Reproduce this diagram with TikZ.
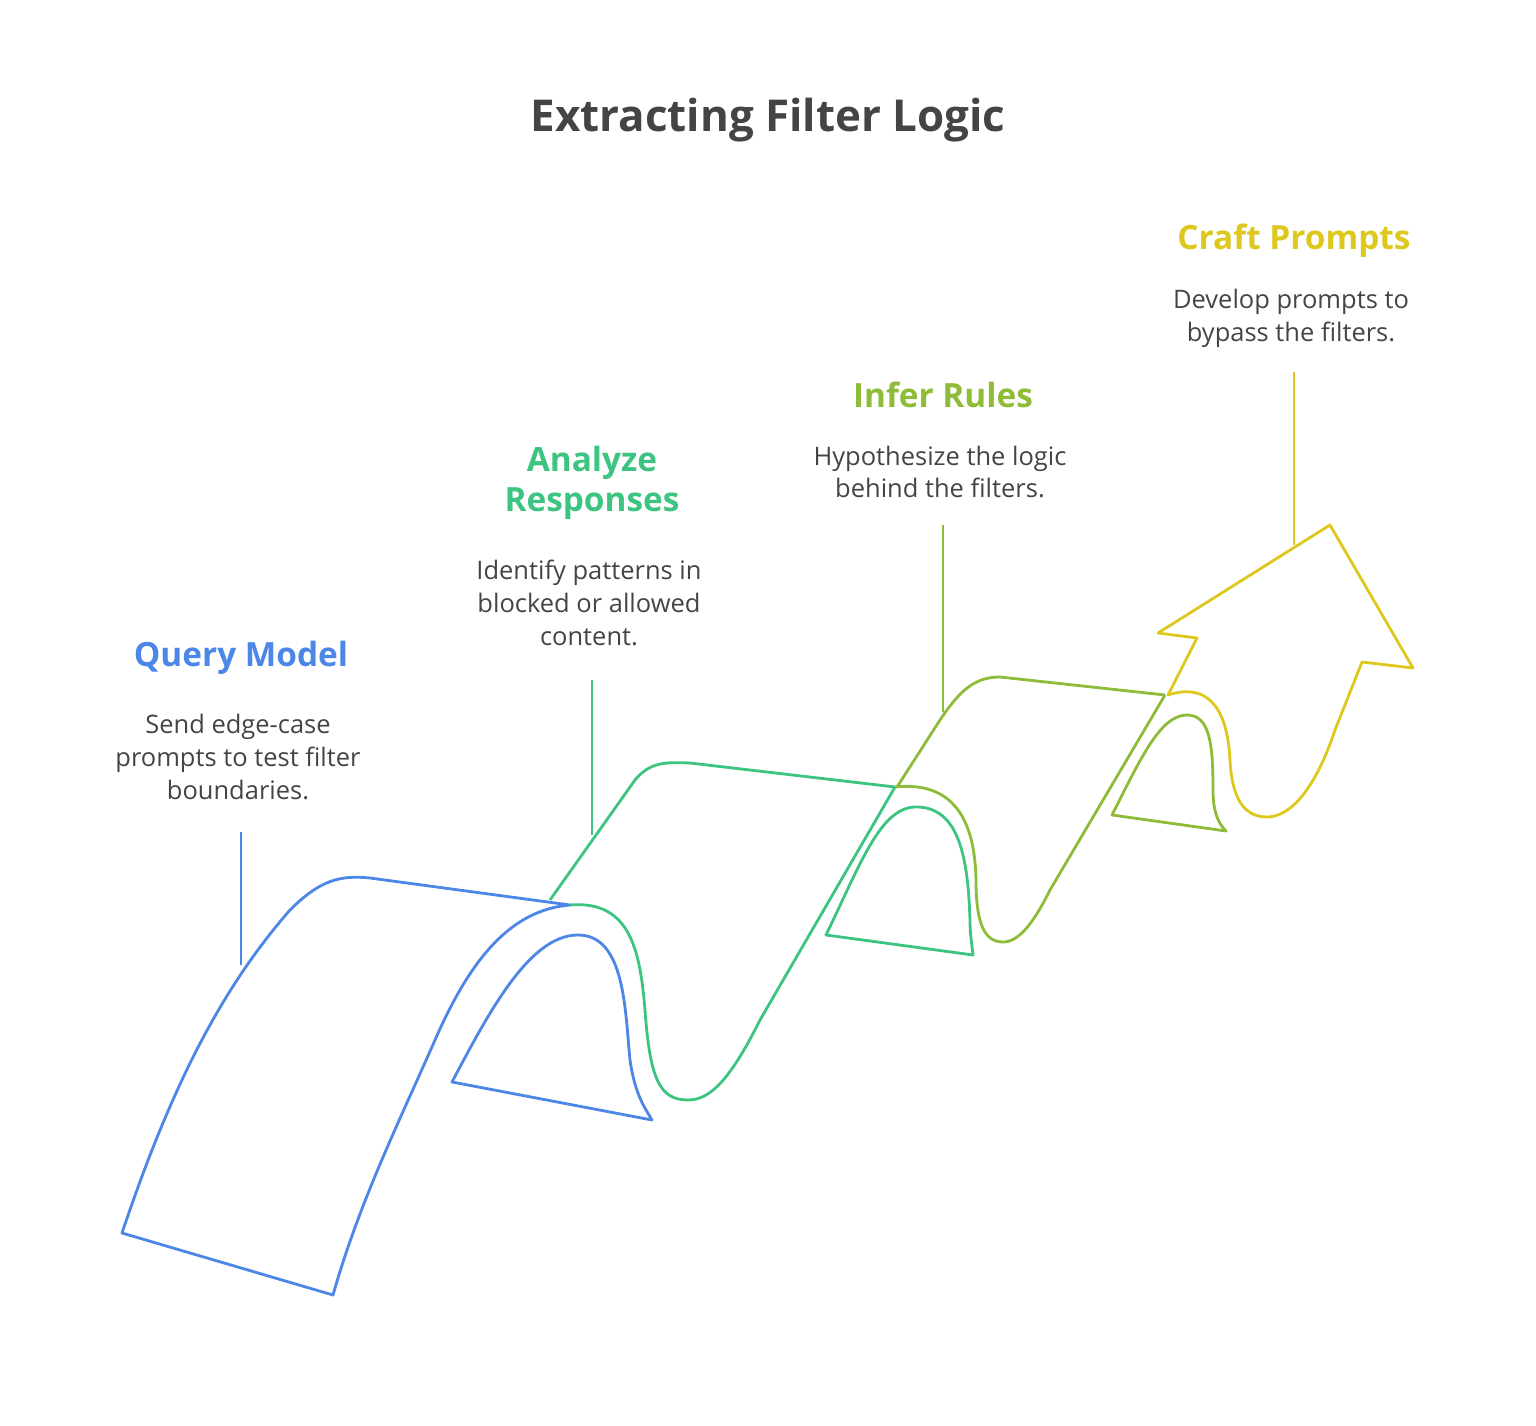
\documentclass[tikz,border=0pt]{standalone}
\usepackage{fontspec}
\setmainfont{Open Sans}
\definecolor{cblue}{HTML}{4C86E6}
\definecolor{cgreen}{HTML}{3CC480}
\definecolor{colive}{HTML}{8EBC38}
\definecolor{cyellow}{HTML}{DEC81E}
\definecolor{ctext}{HTML}{444444}
\begin{document}
\begin{tikzpicture}[
                x = 0.02cm, y = -0.02cm, % pixel grid
                line width = 1.6pt, line join = round,
                head/.style = {font=\bfseries\fontsize{19}{23}\selectfont, align=center},
                body/.style = {font=\fontsize{14.5}{18.7}\selectfont, text=ctext, align=center}
            ]
            \useasboundingbox (0,0) rectangle (1536,1426);

            \node (title) [font=\bfseries\fontsize{25}{30}\selectfont, text=ctext] at (768,120) {Extracting Filter Logic};

            % headings and texts
            \node (h1) [head, text=cblue] at (241,658) {Query Model};
            \node (t1) [body] at (238,757) {Send edge-case\\prompts to test filter\\boundaries.};
            \node (h2) [head, text=cgreen] at (592,483) {Analyze\\Responses};
            \node (t2) [body] at (589,603) {Identify patterns in\\blocked or allowed\\content.};
            \node (h3) [head, text=colive] at (943,395) {Infer Rules};
            \node (t3) [body] at (940,472) {Hypothesize the logic\\behind the filters.};
            \node (h4) [head, text=cyellow] at (1294,241) {Craft Prompts};
            \node (t4) [body] at (1291,318) {Develop prompts to\\bypass the filters.};

            \coordinate (p1) at (241,965); \coordinate (p2) at (592,835);
            \coordinate (p3) at (943,712); \coordinate (p4) at (1294,545);
            \draw[cblue] (241,832) -- (p1);
            \draw[cgreen] (592,680) -- (p2);
            \draw[colive] (943,525) -- (p3);
            \draw[cyellow] (1294,372) -- (p4);

            % blue step
            \draw[cblue] (122,1233) .. controls (170,1090) and (220,990) .. (290,910)
                .. controls (320,880) and (340,875) .. (370,878) -- (570,905)
                .. controls (510,910) and (470,960) .. (435,1040)
                .. controls (400,1120) and (360,1200) .. (333,1295) -- cycle;
            \draw[cblue] (452,1082) .. controls (490,1010) and (530,935) .. (578,935)
                .. controls (625,935) and (625,1010) .. (630,1060)
                .. controls (635,1095) and (645,1108) .. (652,1120) -- cycle;

            % green step
            \draw[cgreen] (550,900) -- (635,780) .. controls (650,762) and (665,762) .. (690,763)
                -- (895,787);
            \draw[cgreen] (570,905) .. controls (630,900) and (640,950) .. (645,1010)
                .. controls (650,1080) and (660,1100) .. (688,1100)
                .. controls (710,1100) and (730,1080) .. (760,1020) -- (895,787);
            \draw[cgreen] (826,935) .. controls (860,865) and (880,808) .. (915,807)
                .. controls (960,806) and (968,860) .. (970,920)
                .. controls (970,935) and (972,945) .. (973,955) -- cycle;

            % olive step
            \draw[colive] (897,787) -- (940,720) .. controls (960,690) and (975,677) .. (1000,677)
                -- (1165,695);
            \draw[colive] (895,787) .. controls (960,780) and (975,830) .. (976,880)
                .. controls (976,925) and (985,942) .. (1003,942)
                .. controls (1020,942) and (1035,920) .. (1050,890) -- (1165,695);
            \draw[colive] (1112,815) .. controls (1140,760) and (1160,715) .. (1187,715)
                .. controls (1210,715) and (1213,745) .. (1213,790)
                .. controls (1213,815) and (1220,825) .. (1226,831) -- cycle;

            % yellow arrow
            \draw[cyellow] (1168,695) .. controls (1215,680) and (1228,720) .. (1230,760)
                .. controls (1232,800) and (1245,817) .. (1267,817)
                .. controls (1290,817) and (1315,790) .. (1335,730)
                -- (1362,662) -- (1413,668) -- (1330,525) -- (1158,633) -- (1197,638) -- cycle;
        \end{tikzpicture}
\end{document}
